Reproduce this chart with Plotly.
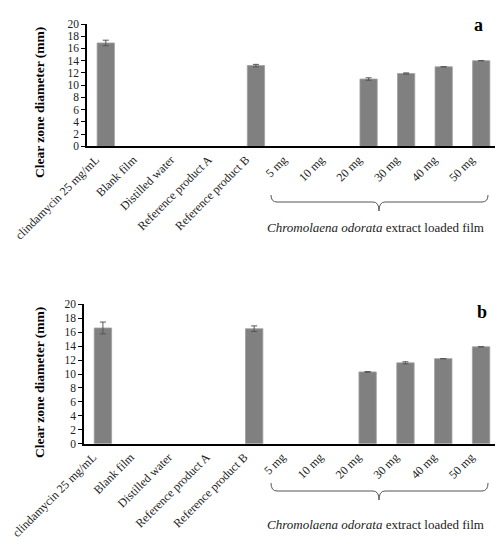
import plotly.graph_objects as go

categories = ["clindamycin 25 mg/mL", "Blank film", "Distilled water",
              "Reference product A", "Reference product B",
              "5 mg", "10 mg", "20 mg", "30 mg", "40 mg", "50 mg"]

values_a = [16.9, None, None, None, 13.2, None, None, 11.0, 11.9, 13.0, 14.0]
errors_a = [0.45, 0, 0, 0, 0.2, 0, 0, 0.2, 0.1, 0, 0]

values_b = [16.6, None, None, None, 16.5, None, None, 10.3, 11.6, 12.2, 13.9]
errors_b = [0.85, 0, 0, 0, 0.4, 0, 0, 0.05, 0.15, 0, 0]

y_ticks = list(range(0, 21, 2))

W, H = 503, 550
FONT = "Liberation Serif"


def px(x):
    return x / W


def py(y):
    return 1 - y / H


fig = go.Figure()

for vals, errs, xa, ya in [(values_a, errors_a, "x", "y"), (values_b, errors_b, "x2", "y2")]:
    fig.add_trace(go.Bar(
        x=categories, y=vals, xaxis=xa, yaxis=ya, width=0.46,
        marker=dict(color="#808080", line=dict(color="#a0a0a0", width=0.8)),
        error_y=dict(type="data", array=errs, color="#555555", thickness=1, width=3),
        showlegend=False,
    ))

axis_x = dict(type="category", showline=True, linecolor="black", linewidth=1.5,
              ticks="", tickangle=-45, tickfont=dict(family=FONT, size=12, color="#222"),
              ticklabelshift=-10,
              showgrid=False, range=[-0.5, 10.5], automargin=False)
axis_y = dict(range=[0, 20], tickvals=y_ticks, showline=True, linecolor="black", linewidth=1.5,
              ticks="outside", ticklen=4, tickcolor="black", showgrid=False, zeroline=False,
              tickfont=dict(family=FONT, size=11.5, color="#222"), automargin=False)

fig.update_layout(
    width=W, height=H,
    margin=dict(l=0, r=0, t=0, b=0),
    plot_bgcolor="white", paper_bgcolor="white",
    xaxis=dict(axis_x, domain=[px(79), px(492)], anchor="y"),
    yaxis=dict(axis_y, domain=[py(138.3), py(16)], anchor="x"),
    xaxis2=dict(axis_x, domain=[px(76), px(492)], anchor="y2"),
    yaxis2=dict(axis_y, domain=[py(435.7), py(296.3)], anchor="x2"),
    bargap=0.5,
)


def brace(x0, x1, xc, y_end, y_line, y_tip):
    r = 6
    a0, a1, ac = px(x0), px(x1), px(xc)
    e, l, t = py(y_end), py(y_line), py(y_tip)
    rr = px(r)
    return (f"M {a0},{e} Q {a0},{l} {a0 + rr},{l} L {ac - rr},{l} "
            f"Q {ac},{l} {ac},{t} Q {ac},{l} {ac + rr},{l} "
            f"L {a1 - rr},{l} Q {a1},{l} {a1},{e}")


for (y_end, y_line, y_tip, y_text) in [(187, 194, 203, 219), (475, 483, 492, 516)]:
    fig.add_shape(type="path", xref="paper", yref="paper",
                  path=brace(263, 480, 371, y_end, y_line, y_tip),
                  line=dict(color="#555555", width=1))
    fig.add_annotation(xref="paper", yref="paper", x=px(367), y=py(y_text),
                       xanchor="center", yanchor="middle",
                       text="<i>Chromolaena odorata</i> extract loaded film",
                       showarrow=False, font=dict(family=FONT, size=13, color="#222"))

for y_c in [95, 375]:
    fig.add_annotation(xref="paper", yref="paper", x=px(31), y=py(y_c),
                       xanchor="center", yanchor="middle",
                       text="<b>Clear zone diameter (mm)</b>", textangle=-90,
                       showarrow=False, font=dict(family=FONT, size=13.5, color="black"))

fig.add_annotation(xref="paper", yref="paper", x=px(470), y=py(17),
                   xanchor="center", yanchor="middle",
                   text="<b>a</b>", showarrow=False,
                   font=dict(family=FONT, size=18, color="black"))
fig.add_annotation(xref="paper", yref="paper", x=px(474), y=py(304),
                   xanchor="center", yanchor="middle",
                   text="<b>b</b>", showarrow=False,
                   font=dict(family=FONT, size=18, color="black"))

fig.write_html("out.html")
